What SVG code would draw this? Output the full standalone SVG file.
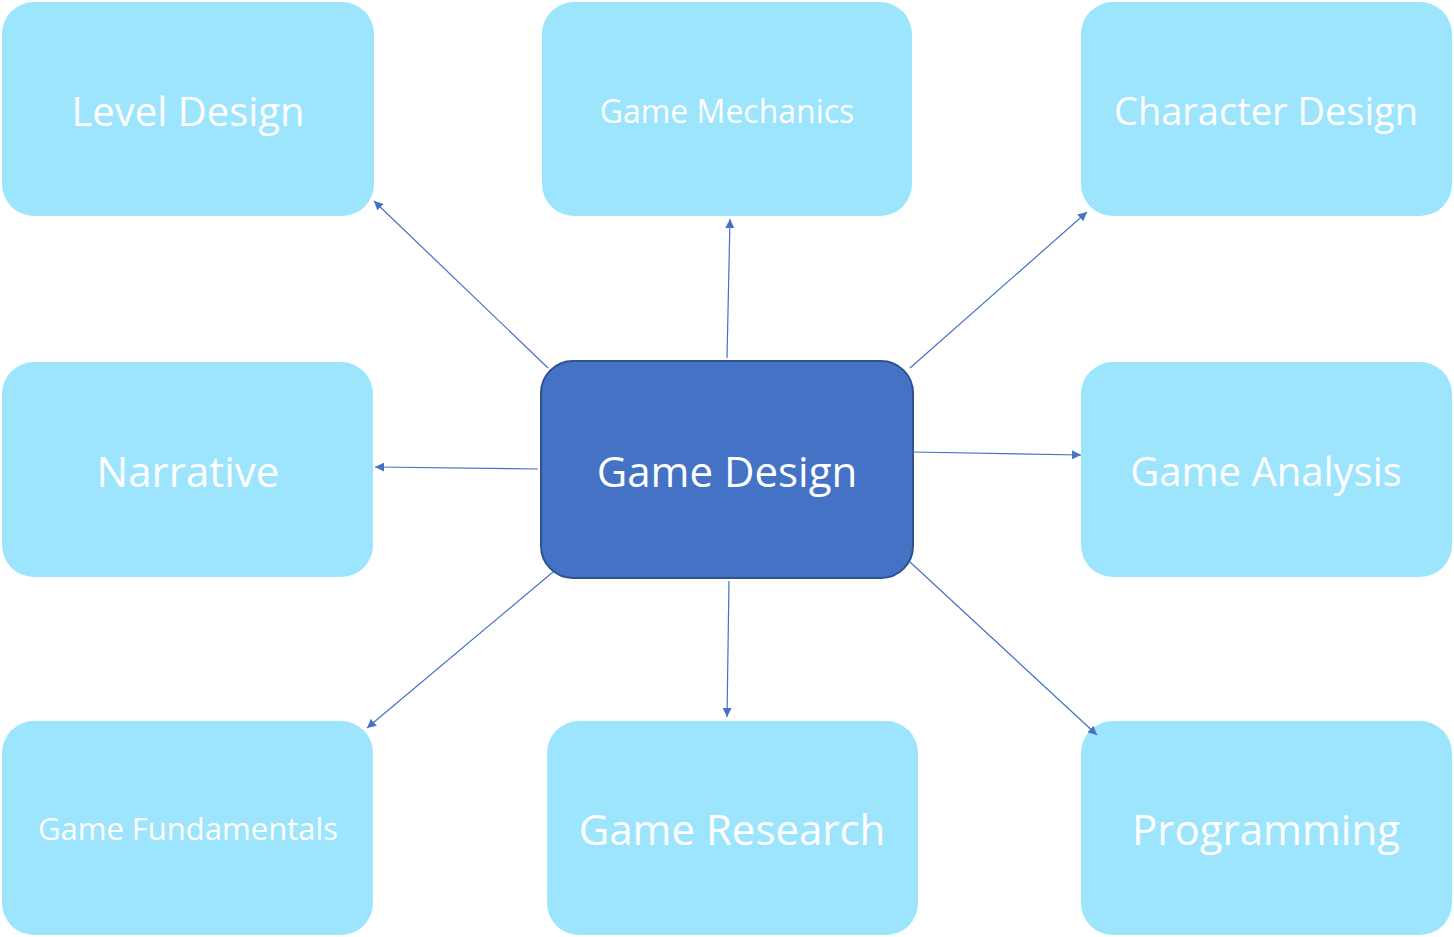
<svg xmlns="http://www.w3.org/2000/svg" width="1454" height="937" viewBox="0 0 1454 937">
<style>
.n{fill:#9DE5FD}
.t{fill:#fff;font-family:"Open Sans",sans-serif;text-anchor:middle;dominant-baseline:central}
.c line{stroke:#4472C4;stroke-width:1.2;marker-end:url(#a)}
</style>
<defs><marker id="a" viewBox="0 0 10 10" refX="10" refY="5" markerWidth="9" markerHeight="9" markerUnits="userSpaceOnUse" orient="auto"><path d="M0,0L10,5L0,10z" fill="#4472C4"/></marker></defs>
<rect width="1454" height="937" fill="#fff"/>
<g id="n1"><rect class="n" x="2" y="2" width="372" height="214" rx="32"/><text class="t" x="188" y="110" font-size="40">Level Design</text></g>
<g id="n2"><rect class="n" x="542" y="2" width="370" height="214" rx="32"/><text class="t" x="727" y="110" font-size="32">Game Mechanics</text></g>
<g id="n3"><rect class="n" x="1081" y="2" width="371" height="214" rx="32"/><text class="t" x="1266" y="110" font-size="38">Character Design</text></g>
<g id="n4"><rect class="n" x="2" y="362" width="371" height="215" rx="32"/><text class="t" x="188" y="470" font-size="42">Narrative</text></g>
<g id="n5"><rect x="541" y="361" width="372" height="217" rx="32" fill="#4472C4" stroke="#2F528F" stroke-width="2"/><text class="t" x="727" y="470" font-size="42">Game Design</text></g>
<g id="n6"><rect class="n" x="1081" y="362" width="371" height="215" rx="32"/><text class="t" x="1266" y="470" font-size="40">Game Analysis</text></g>
<g id="n7"><rect class="n" x="2" y="721" width="371" height="214" rx="32"/><text class="t" x="188" y="828" font-size="31">Game Fundamentals</text></g>
<g id="n8"><rect class="n" x="547" y="721" width="371" height="214" rx="32"/><text class="t" x="732" y="828" font-size="42">Game Research</text></g>
<g id="n9"><rect class="n" x="1081" y="721" width="371" height="214" rx="32"/><text class="t" x="1266" y="828" font-size="42">Programming</text></g>
<g class="c">
<line x1="548" y1="368" x2="374" y2="201"/>
<line x1="727" y1="358" x2="730" y2="219"/>
<line x1="910" y1="368" x2="1087" y2="212"/>
<line x1="538" y1="469" x2="375" y2="467"/>
<line x1="913" y1="452" x2="1081" y2="455"/>
<line x1="553" y1="572" x2="367" y2="728"/>
<line x1="729" y1="581" x2="727" y2="717"/>
<line x1="910" y1="562" x2="1097" y2="735"/>
</g>
</svg>
